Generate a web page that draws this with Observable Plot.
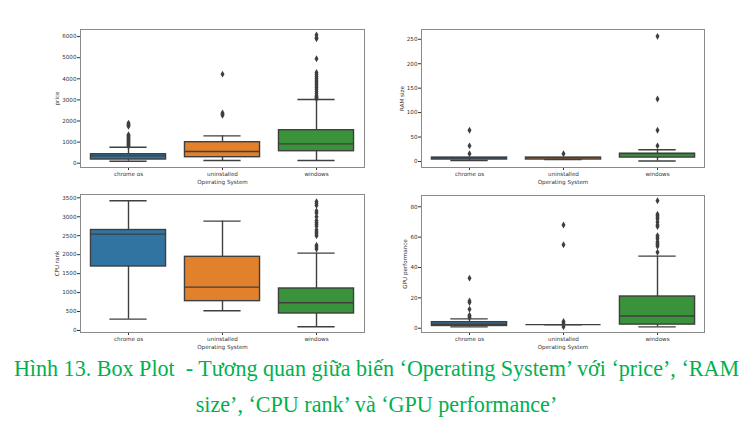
<!DOCTYPE html>
<html>
<head>
<meta charset="utf-8">
<script src="https://cdn.jsdelivr.net/npm/d3@7"></script>
<script src="https://cdn.jsdelivr.net/npm/@observablehq/plot@0.6"></script>
<style>
  html, body { margin: 0; padding: 0; background: #fff; }
  #root { position: relative; width: 753px; height: 425px; overflow: hidden; background: #fff; }
  .panel { position: absolute; }
  #caption { position: absolute; left: 0; top: 351px; width: 753px; text-align: center; white-space: nowrap;
    font-family: "Liberation Serif", "Times New Roman", serif; font-size: 22.1px; line-height: 36px; color: #00b050; }
</style>
</head>
<body>
<div id="root">
  <div class="panel" id="p1" style="left:0px;top:20px"></div>
  <div class="panel" id="p2" style="left:341px;top:20px"></div>
  <div class="panel" id="p3" style="left:0px;top:185px"></div>
  <div class="panel" id="p4" style="left:341px;top:185px"></div>
  <div id="caption">Hình 13. Box Plot&nbsp; - Tương quan giữa biến ‘Operating System’ với ‘price’, ‘RAM<br>size’, ‘CPU rank’ và ‘GPU performance’</div>
</div>
<script>
const categories = ["chrome os", "uninstalled", "windows"];
const palette = ["#3274a1", "#e1812c", "#3a923a"];

// price
const priceQ1 = [174, 284, 568];
const priceMedian = [347, 553, 916];
const priceQ3 = [426, 995, 1563];
const priceLow = [95, 126, 126];
const priceHigh = [758, 1295, 3016];
const priceOutliers = [
  [800, 850, 900, 950, 1000, 1050, 1100, 1150, 1200, 1250, 1300, 1350, 1750, 1800, 1850, 1900],
  [2270, 2320, 2380, 4220],
  [3050, 3100, 3150, 3200, 3300, 3400, 3500, 3600, 3700, 3800, 3900, 4000, 4100, 4200, 4300, 4950, 5900, 5950, 6080]
];
const priceTicks = [0, 1000, 2000, 3000, 4000, 5000, 6000];

// RAM size
const ramQ1 = [4, 4, 8];
const ramMedian = [8, 8, 16];
const ramQ3 = [8, 8, 16];
const ramLow = [2, 4, 1];
const ramHigh = [8, 8, 24];
const ramOutliers = [[16, 32, 64], [16], [32, 64, 128, 256]];
const ramTicks = [0, 50, 100, 150, 200, 250];

// CPU rank
const cpuQ1 = [1688, 774, 448];
const cpuMedian = [2541, 1143, 730];
const cpuQ3 = [2650, 1943, 1108];
const cpuLow = [299, 519, 97];
const cpuHigh = [3421, 2884, 2040];
const cpuOutliers = [[], [], [2150, 2200, 2250, 2500, 2550, 2600, 2650, 2750, 2800, 2850, 2900, 3000, 3100, 3150, 3300, 3350, 3400]];
const cpuTicks = [0, 500, 1000, 1500, 2000, 2500, 3000, 3500];

// GPU performance
const gpuQ1 = [1.5, 2.4, 2.4];
const gpuMedian = [2.6, 2.4, 8.1];
const gpuQ3 = [4, 2.4, 20.9];
const gpuLow = [0.9, 2.4, 0.9];
const gpuHigh = [6.2, 2.4, 47.5];
const gpuOutliers = [
  [7, 8, 8.5, 12.5, 17, 18, 33],
  [1, 3.5, 4.5, 55, 68],
  [50, 54, 55, 56, 57, 59, 60, 61, 67, 68, 70, 72, 73, 74, 75, 84]
];
const gpuTicks = [0, 20, 40, 60, 80];

const lineColor = "#3f3f3f";

function panel({q1, med, q3, lo, hi, out, domain, ticks, label, labelOffset, width, height, marginTop, frameHeight}) {
  const rows = categories.map((c, i) => ({os: c, q1: q1[i], med: med[i], q3: q3[i], lo: lo[i], hi: hi[i]}));
  const pts = categories.flatMap((c, i) => out[i].map(v => ({os: c, v})));
  const bw = (width - 80 - 12) / 3;
  const boxInset = bw * 0.1;
  const capInset = bw * 0.3;
  return Plot.plot({
    width, height,
    marginLeft: 80, marginRight: 12, marginTop, marginBottom: height - marginTop - frameHeight,
    style: {fontFamily: "DejaVu Sans", fontSize: "5.6px", color: "#333", background: "transparent", overflow: "visible"},
    x: {type: "band", domain: categories, padding: 0, label: "Operating System", labelAnchor: "center", labelOffset: 16, labelArrow: "none", tickSize: 3, tickPadding: 1.5},
    y: {domain, ticks, label, labelAnchor: "center", labelOffset, labelArrow: "none", tickSize: 3, tickPadding: 1, tickFormat: d => String(d)},
    color: {domain: categories, range: palette},
    marks: [
      Plot.ruleX(rows, {x: "os", y1: "lo", y2: "q1", stroke: lineColor, strokeWidth: 1.4}),
      Plot.ruleX(rows, {x: "os", y1: "q3", y2: "hi", stroke: lineColor, strokeWidth: 1.4}),
      Plot.tickY(rows, {x: "os", y: "lo", insetLeft: capInset, insetRight: capInset, stroke: lineColor, strokeWidth: 1.4}),
      Plot.tickY(rows, {x: "os", y: "hi", insetLeft: capInset, insetRight: capInset, stroke: lineColor, strokeWidth: 1.4}),
      Plot.barY(rows, {x: "os", y1: "q1", y2: "q3", fill: "os", stroke: lineColor, strokeWidth: 1.4, insetLeft: boxInset, insetRight: boxInset}),
      Plot.tickY(rows, {x: "os", y: "med", insetLeft: boxInset, insetRight: boxInset, stroke: lineColor, strokeWidth: 1.4}),
      Plot.dot(pts, {x: "os", y: "v", symbol: "diamond", r: 2.1, fill: lineColor, stroke: "none"}),
      Plot.frame({stroke: "#8a8a8a", strokeWidth: 1})
    ]
  });
}

document.getElementById("p1").append(panel({
  q1: priceQ1, med: priceMedian, q3: priceQ3, lo: priceLow, hi: priceHigh, out: priceOutliers,
  domain: [-204, 6336], ticks: priceTicks, label: "price", labelOffset: 25,
  width: 376, height: 175, marginTop: 9, frameHeight: 138
}));
document.getElementById("p2").append(panel({
  q1: ramQ1, med: ramMedian, q3: ramQ3, lo: ramLow, hi: ramHigh, out: ramOutliers,
  domain: [-12.3, 270], ticks: ramTicks, label: "RAM size", labelOffset: 21,
  width: 375, height: 175, marginTop: 9, frameHeight: 138
}));
document.getElementById("p3").append(panel({
  q1: cpuQ1, med: cpuMedian, q3: cpuQ3, lo: cpuLow, hi: cpuHigh, out: cpuOutliers,
  domain: [-53, 3587], ticks: cpuTicks, label: "CPU rank", labelOffset: 25,
  width: 376, height: 175, marginTop: 9, frameHeight: 138
}));
document.getElementById("p4").append(panel({
  q1: gpuQ1, med: gpuMedian, q3: gpuQ3, lo: gpuLow, hi: gpuHigh, out: gpuOutliers,
  domain: [-2.8, 87.4], ticks: gpuTicks, label: "GPU performance", labelOffset: 18,
  width: 375, height: 175, marginTop: 10, frameHeight: 137
}));
</script>
</body>
</html>
